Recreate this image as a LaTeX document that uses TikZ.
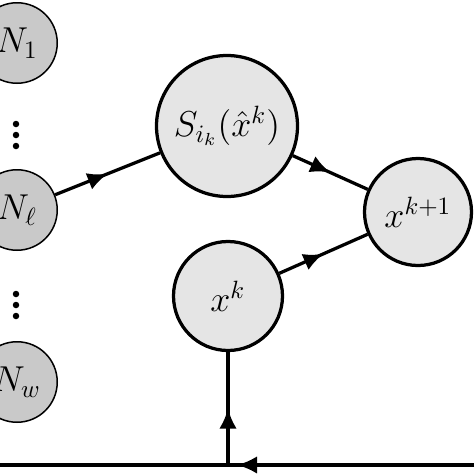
\documentclass[tikz,border=0pt]{standalone}
\usetikzlibrary{decorations.markings,arrows.meta}
\def\px{0.4pt}
\tikzset{
  nnode/.style={circle,draw=black,line width=0.6pt,fill=nfill,minimum size=80.5*\px,inner sep=0pt,font=\Large},
  bnode/.style={circle,draw=black,line width=1.3pt,fill=bfill,inner sep=0pt,font=\Large},
  dotnode/.style={circle,fill=black,inner sep=0pt,minimum size=6.5*\px},
  conn/.style={line width=1.3pt,postaction={decorate},decoration={markings,mark=at position 0.5 with {\arrow{Latex[length=8pt,width=7pt]}}}},
}
\definecolor{nfill}{gray}{0.79}
\definecolor{bfill}{gray}{0.9}
\begin{document}
\begin{tikzpicture}[x=0.4pt,y=-0.4pt]
\useasboundingbox (0,0) rectangle (474,474);
\node[nnode] (N1) at (17,43) {$N_1$};
\node[nnode] (Nl) at (17,210) {$N_\ell$};
\node[nnode] (Nw) at (17,382) {$N_w$};
\node[dotnode] (a1) at (16,124) {};
\node[dotnode] (a2) at (16,135) {};
\node[dotnode] (a3) at (16,146) {};
\node[dotnode] (b1) at (16,294) {};
\node[dotnode] (b2) at (16,305) {};
\node[dotnode] (b3) at (16,316) {};
\node[bnode,minimum size=141*\px] (S) at (227,126) {$S_{i_k}(\hat{x}^k)$};
\node[bnode,minimum size=107*\px] (X1) at (418,212) {$x^{k+1}$};
\node[bnode,minimum size=109*\px] (X) at (228,296) {$x^k$};
\coordinate (R) at (474,465);
\coordinate (L) at (0,465);
\coordinate (J) at (228,465);
\draw[conn] (Nl) -- (S);
\draw[conn] (S) -- (X1);
\draw[conn] (X) -- (X1);
\draw[conn] (J) -- (X);
\draw[conn] (R) -- (L);
\end{tikzpicture}
\end{document}
